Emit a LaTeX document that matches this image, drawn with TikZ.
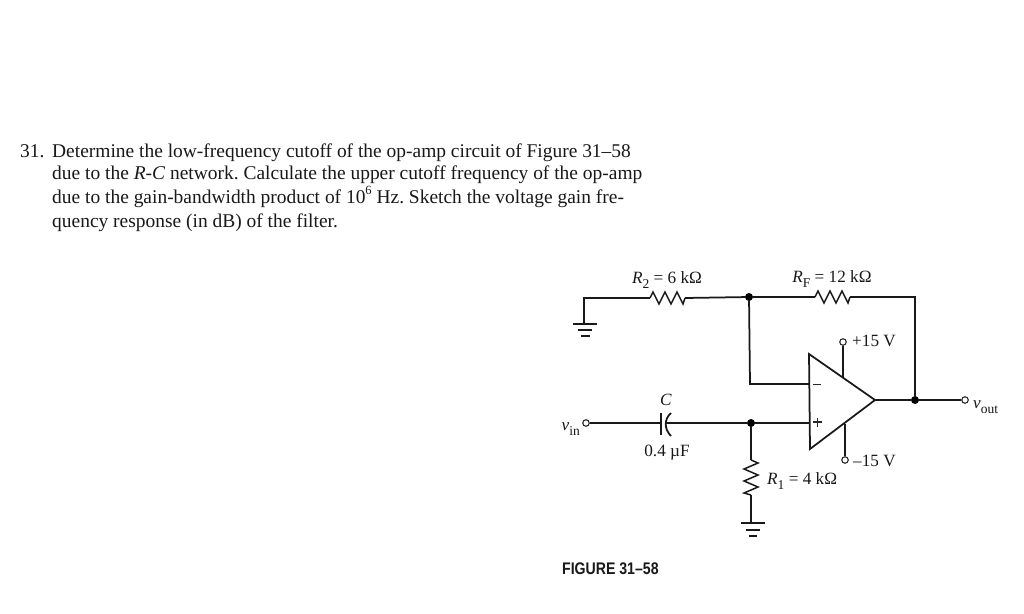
\documentclass[tikz,border=0pt]{standalone}
\usepackage{fontspec}
\setmainfont{Liberation Serif}
\newfontfamily\figfont{Liberation Sans}
\newcommand{\ssb}[1]{\raisebox{-0.3em}{\fontsize{13.5}{14}\selectfont #1}}
\newcommand{\zigh}{-- ++(3,-6) -- ++(6,12) -- ++(6,-12) -- ++(6,12) -- ++(6,-12) -- ++(6,12) -- ++(2,-6)}
\newcommand{\zigv}{-- ++(7,3) -- ++(-14,6) -- ++(14,6) -- ++(-14,6) -- ++(14,6) -- ++(-14,6) -- ++(7,2)}
\tikzset{
  x=1pt,y=-1pt,
  wire/.style={draw=black!90,line width=1.75pt,line join=miter},
  res/.style={draw=black!90,line width=1.5pt,line join=miter},
  dotj/.style={circle,fill=black,inner sep=0pt,minimum size=8pt},
  term/.style={circle,draw=black!85,fill=white,line width=1.1pt,inner sep=0pt,minimum size=6.5pt},
  body/.style={anchor=base west,inner sep=0pt,font=\fontsize{19.45}{21}\selectfont,text=black!90},
  lab/.style={inner sep=0pt,font=\fontsize{17.2}{19}\selectfont,text=black!90},
  gbar/.style={draw=black!90,line width=1.9pt},
}
\begin{document}
\frenchspacing
\begin{tikzpicture}
\useasboundingbox[fill=white] (0,0) rectangle (1024,613);
% text
\node[body] (num) at (20,157) {31.};
\node[body] (l1) at (52,157) {Determine the low-frequency cutoff of the op-amp circuit of Figure 31–58};
\node[body] (l2) at (52,179) {due to the \textit{R-C} network. Calculate the upper cutoff frequency of the op-amp};
\node[body] (l3) at (52,203) {due to the gain-bandwidth product of 10\raisebox{0.42em}{\fontsize{12.5}{13}\selectfont 6} Hz. Sketch the voltage gain fre-};
\node[body] (l4) at (52,227) {quency response (in dB) of the filter.};
% coordinates
\coordinate (g1) at (584,298);
\coordinate (g1b) at (584,324);
\coordinate (r2a) at (650,298);
\coordinate (r2b) at (685,298);
\coordinate (rfa) at (815,297);
\coordinate (rfb) at (850,297);
\coordinate (fbc) at (915,297);
\coordinate (fn) at (750,384);
\coordinate (inm) at (809,384);
\coordinate (inp) at (809,423);
\coordinate (ca) at (661,423);
\coordinate (cb) at (666,423);
\coordinate (r1a) at (751,460);
\coordinate (r1b) at (751,495);
\coordinate (g2b) at (751,523);
\coordinate (oa1) at (809,354);
\coordinate (oa2) at (810,449);
\coordinate (oa3) at (875,400);
\coordinate (pp) at (843,377);
\coordinate (pn) at (845,424);
% nodes
\node[dotj] (j1) at (749,297) {};
\node[dotj] (j2) at (751,423) {};
\node[dotj] (j3) at (915,400) {};
\node[term] (tin) at (586,423) {};
\node[term] (tout) at (965,400) {};
\node[term] (tp) at (843,342) {};
\node[term] (tn) at (845,460) {};
% wires
\draw[wire] (g1b) -- (g1) -- (r2a);
\draw[res] (r2a) \zigh;
\draw[wire] (r2b) -- (j1) -- (rfa);
\draw[res] (rfa) \zigh;
\draw[wire] (rfb) -- (fbc) -- (j3);
\draw[wire] (j1) -- (fn) -- (inm);
\draw[wire] (tin) -- (ca);
\draw[wire] (cb) -- (j2) -- (inp);
\draw[wire] (j2) -- (r1a);
\draw[res] (r1a) \zigv;
\draw[wire] (r1b) -- (g2b);
\draw[wire] (oa3) -- (j3) -- (tout);
\draw[wire] (pp) -- (tp);
\draw[wire] (pn) -- (tn);
% capacitor
\draw[wire] (661,413) -- (661,435);
\draw[wire] (671,413) .. controls (664,419) and (664,429) .. (671,436);
% op-amp
\draw[wire,fill=white] (oa1) -- (oa3) -- (oa2) -- cycle;
\draw[draw=black!85,line width=1pt] (813,384.5) -- (821,384.5);
\draw[draw=black!85,line width=1.1pt] (813,422) -- (822,422) (817.5,417.5) -- (817.5,426.5);
% grounds
\draw[gbar] (573,324) -- (597,324) (578,330) -- (592,330) (581,336) -- (590,336);
\draw[gbar] (741,523) -- (765,523) (746,530) -- (760,530) (749,536) -- (757,536);
% labels
\node[lab,anchor=base] (lr2) at (667,283) {\textit{R}\ssb{2} = 6 kΩ};
\node[lab,anchor=base] (lrf) at (832,282) {\textit{R}\ssb{F} = 12 kΩ};
\node[lab,anchor=base west] (lp) at (852,346) {+15 V};
\node[lab,anchor=base west] (ln) at (853,466) {–15 V};
\node[lab,anchor=base west] (lr1) at (767,484) {\textit{R}\ssb{1} = 4 kΩ};
\node[lab,anchor=base] (lc) at (666,405) {\textit{C}};
\node[lab,anchor=base] (lcv) at (667,456) {0.4 µF};
\node[lab,anchor=base east] (lvin) at (580,430) {\textit{v}\ssb{in}};
\node[lab,anchor=base west] (lvout) at (973,408) {\textit{v}\ssb{out}};
\node[anchor=base west,inner sep=0pt,xscale=0.84,font=\figfont\bfseries\fontsize{16.8}{18}\selectfont,text=black!90] (fig) at (562,574) {FIGURE 31–58};
\end{tikzpicture}
\end{document}
